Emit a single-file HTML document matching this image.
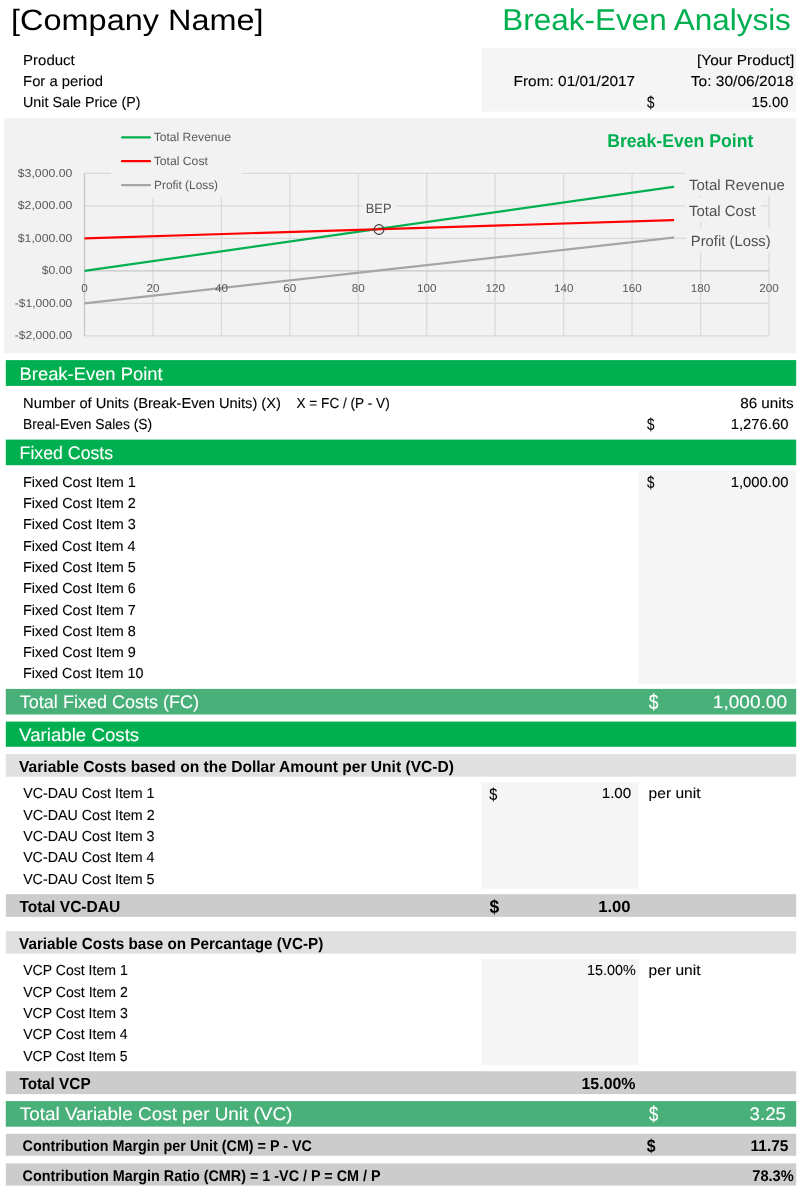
<!DOCTYPE html>
<html lang="en"><head><meta charset="utf-8"><title>Break-Even Analysis</title>
<style>html,body{margin:0;padding:0;background:#fff}svg{display:block}</style></head>
<body>
<svg width="800" height="1192" viewBox="0 0 800 1192" font-family='"Liberation Sans", sans-serif' text-rendering="geometricPrecision">
<rect width="800" height="1192" fill="#fff"/>
<rect x="481.3" y="47.8" width="314.9" height="63.8" fill="#F5F5F5"/>
<rect x="4.2" y="117.9" width="792" height="235.1" fill="#F2F2F2"/>
<rect x="5.8" y="360.1" width="790.4" height="25.8" fill="#00B050"/>
<rect x="5.8" y="439.6" width="790.4" height="25.6" fill="#00B050"/>
<rect x="638.6" y="470.6" width="157.6" height="213" fill="#F5F5F5"/>
<rect x="5.8" y="688.9" width="790.4" height="25.6" fill="#48B078"/>
<rect x="5.8" y="721.6" width="790.4" height="25.2" fill="#00B050"/>
<rect x="5.8" y="754.1" width="790.4" height="22.6" fill="#E0E0E0"/>
<rect x="481.25" y="782.2" width="157.5" height="106.55" fill="#F5F5F5"/>
<rect x="5.8" y="894.2" width="790.4" height="22.7" fill="#CCCCCC"/>
<rect x="5.8" y="931.2" width="790.4" height="22.5" fill="#E0E0E0"/>
<rect x="481.25" y="959.25" width="157.5" height="106.25" fill="#F5F5F5"/>
<rect x="5.8" y="1071.2" width="790.4" height="22.9" fill="#CCCCCC"/>
<rect x="5.8" y="1101.1" width="790.4" height="25.6" fill="#48B078"/>
<rect x="5.8" y="1133.8" width="790.4" height="22" fill="#CCCCCC"/>
<rect x="5.8" y="1163.4" width="790.4" height="22.2" fill="#CCCCCC"/>
<g stroke="#DADADA" stroke-width="1.25" fill="none">
<line x1="84.5" y1="173.26" x2="769" y2="173.26"/>
<line x1="84.5" y1="205.79" x2="769" y2="205.79"/>
<line x1="84.5" y1="238.32" x2="769" y2="238.32"/>
<line x1="84.5" y1="303.38" x2="769" y2="303.38"/>
<line x1="84.5" y1="335.91" x2="769" y2="335.91"/>
<line x1="152.95" y1="173.26" x2="152.95" y2="335.91"/>
<line x1="221.4" y1="173.26" x2="221.4" y2="335.91"/>
<line x1="289.85" y1="173.26" x2="289.85" y2="335.91"/>
<line x1="358.3" y1="173.26" x2="358.3" y2="335.91"/>
<line x1="426.75" y1="173.26" x2="426.75" y2="335.91"/>
<line x1="495.2" y1="173.26" x2="495.2" y2="335.91"/>
<line x1="563.65" y1="173.26" x2="563.65" y2="335.91"/>
<line x1="632.1" y1="173.26" x2="632.1" y2="335.91"/>
<line x1="700.55" y1="173.26" x2="700.55" y2="335.91"/>
<line x1="769" y1="173.26" x2="769" y2="335.91"/>
<line x1="84.5" y1="270.85" x2="769" y2="270.85" stroke="#C6C6C6"/>
<line x1="84.5" y1="173.26" x2="84.5" y2="335.91" stroke="#C6C6C6"/>
</g>
<rect x="111" y="124" width="130.6" height="73.6" fill="#F2F2F2"/>
<rect x="685" y="168" width="105" height="27.9" fill="#F2F2F2"/>
<rect x="685" y="198" width="76" height="23.6" fill="#F2F2F2"/>
<rect x="686.5" y="227.4" width="89.5" height="25.35" fill="#F2F2F2"/>
<rect x="362.5" y="200" width="33.5" height="17" fill="#F2F2F2"/>
<line x1="84.5" y1="303.38" x2="673.17" y2="237.64" stroke="#A5A5A5" stroke-width="2.2"/><circle cx="673.17" cy="237.64" r="1.1" fill="#A5A5A5"/>
<line x1="84.5" y1="270.85" x2="673.17" y2="186.92" stroke="#00B050" stroke-width="2.2"/><circle cx="673.17" cy="186.92" r="1.1" fill="#00B050"/>
<line x1="84.5" y1="238.32" x2="673.17" y2="220.14" stroke="#FF0000" stroke-width="2.2"/><circle cx="673.17" cy="220.14" r="1.1" fill="#FF0000"/>
<circle cx="379" cy="229.5" r="4.9" fill="none" stroke="#404040" stroke-width="1.1"/>
<line x1="122" y1="137.3" x2="150" y2="137.3" stroke="#00B050" stroke-width="2.2" stroke-linecap="round"/>
<line x1="122" y1="161.2" x2="150" y2="161.2" stroke="#FF0000" stroke-width="2.2" stroke-linecap="round"/>
<line x1="122" y1="185.1" x2="150" y2="185.1" stroke="#A5A5A5" stroke-width="2.2" stroke-linecap="round"/>
<g fill="#595959" font-size="11.4">
<text x="72.3" y="176.56" text-anchor="end" textLength="54.5" lengthAdjust="spacingAndGlyphs">$3,000.00</text>
<text x="72.3" y="209.09" text-anchor="end" textLength="54.5" lengthAdjust="spacingAndGlyphs">$2,000.00</text>
<text x="72.3" y="241.62" text-anchor="end" textLength="54.5" lengthAdjust="spacingAndGlyphs">$1,000.00</text>
<text x="72.3" y="274.15" text-anchor="end" textLength="30.5" lengthAdjust="spacingAndGlyphs">$0.00</text>
<text x="72.3" y="306.68" text-anchor="end" textLength="57.5" lengthAdjust="spacingAndGlyphs">-$1,000.00</text>
<text x="72.3" y="339.21" text-anchor="end" textLength="57.5" lengthAdjust="spacingAndGlyphs">-$2,000.00</text>
<text x="84.5" y="292.2" text-anchor="middle" textLength="6.5" lengthAdjust="spacingAndGlyphs">0</text>
<text x="152.95" y="292.2" text-anchor="middle" textLength="13" lengthAdjust="spacingAndGlyphs">20</text>
<text x="221.4" y="292.2" text-anchor="middle" textLength="13" lengthAdjust="spacingAndGlyphs">40</text>
<text x="289.85" y="292.2" text-anchor="middle" textLength="13" lengthAdjust="spacingAndGlyphs">60</text>
<text x="358.3" y="292.2" text-anchor="middle" textLength="13" lengthAdjust="spacingAndGlyphs">80</text>
<text x="426.75" y="292.2" text-anchor="middle" textLength="19.5" lengthAdjust="spacingAndGlyphs">100</text>
<text x="495.2" y="292.2" text-anchor="middle" textLength="19.5" lengthAdjust="spacingAndGlyphs">120</text>
<text x="563.65" y="292.2" text-anchor="middle" textLength="19.5" lengthAdjust="spacingAndGlyphs">140</text>
<text x="632.1" y="292.2" text-anchor="middle" textLength="19.5" lengthAdjust="spacingAndGlyphs">160</text>
<text x="700.55" y="292.2" text-anchor="middle" textLength="19.5" lengthAdjust="spacingAndGlyphs">180</text>
<text x="769" y="292.2" text-anchor="middle" textLength="19.5" lengthAdjust="spacingAndGlyphs">200</text>
</g>
<text x="11.1" y="30.3" font-size="29.3" textLength="252.41" lengthAdjust="spacingAndGlyphs">[Company Name]</text>
<text x="502.2" y="30.4" font-size="30" textLength="288.69" lengthAdjust="spacingAndGlyphs" fill="#00B050">Break-Even Analysis</text>
<text x="23.07" y="64.55" font-size="14.5" textLength="51.66" lengthAdjust="spacingAndGlyphs" stroke="#000" stroke-width="0.1">Product</text>
<text x="23.1" y="85.75" font-size="14.5" textLength="79.78" lengthAdjust="spacingAndGlyphs" stroke="#000" stroke-width="0.1">For a period</text>
<text x="23.07" y="107.05" font-size="14.5" textLength="117.42" lengthAdjust="spacingAndGlyphs" stroke="#000" stroke-width="0.1">Unit Sale Price (P)</text>
<text x="696.98" y="64.55" font-size="14.5" textLength="97.2" lengthAdjust="spacingAndGlyphs" stroke="#000" stroke-width="0.1">[Your Product]</text>
<text x="513.59" y="85.75" font-size="14.5" textLength="121.59" lengthAdjust="spacingAndGlyphs" stroke="#000" stroke-width="0.1">From: 01/01/2017</text>
<text x="690.75" y="85.75" font-size="14.5" textLength="102.84" lengthAdjust="spacingAndGlyphs" stroke="#000" stroke-width="0.1">To: 30/06/2018</text>
<text x="646.94" y="108.14" font-size="16.96" textLength="7.44" lengthAdjust="spacingAndGlyphs" stroke="#000" stroke-width="0.1">$</text>
<text x="751.4" y="107.05" font-size="14.5" textLength="37.07" lengthAdjust="spacingAndGlyphs" stroke="#000" stroke-width="0.1">15.00</text>
<text x="19.53" y="379.75" font-size="18.1" textLength="143.12" lengthAdjust="spacingAndGlyphs" fill="#fff" stroke="#fff" stroke-width="0.1">Break-Even Point</text>
<text x="23.12" y="407.85" font-size="14.5" textLength="257.84" lengthAdjust="spacingAndGlyphs" stroke="#000" stroke-width="0.1">Number of Units (Break-Even Units) (X)</text>
<text x="296.45" y="407.85" font-size="14.5" textLength="93.27" lengthAdjust="spacingAndGlyphs" stroke="#000" stroke-width="0.1">X = FC / (P - V)</text>
<text x="23.02" y="429.15" font-size="14.5" textLength="129.1" lengthAdjust="spacingAndGlyphs" stroke="#000" stroke-width="0.1">Breal-Even Sales (S)</text>
<text x="740.18" y="407.85" font-size="14.5" textLength="53.42" lengthAdjust="spacingAndGlyphs" stroke="#000" stroke-width="0.1">86 units</text>
<text x="646.93" y="430.24" font-size="16.96" textLength="7.45" lengthAdjust="spacingAndGlyphs" stroke="#000" stroke-width="0.1">$</text>
<text x="730.71" y="429.15" font-size="14.5" textLength="57.75" lengthAdjust="spacingAndGlyphs" stroke="#000" stroke-width="0.1">1,276.60</text>
<text x="19.57" y="459.25" font-size="18.1" textLength="93.61" lengthAdjust="spacingAndGlyphs" fill="#fff" stroke="#fff" stroke-width="0.1">Fixed Costs</text>
<text x="22.95" y="486.95" font-size="14.5" textLength="112.87" lengthAdjust="spacingAndGlyphs" stroke="#000" stroke-width="0.1">Fixed Cost Item 1</text>
<text x="22.95" y="508.21" font-size="14.5" textLength="112.89" lengthAdjust="spacingAndGlyphs" stroke="#000" stroke-width="0.1">Fixed Cost Item 2</text>
<text x="22.95" y="529.47" font-size="14.5" textLength="112.87" lengthAdjust="spacingAndGlyphs" stroke="#000" stroke-width="0.1">Fixed Cost Item 3</text>
<text x="22.95" y="550.73" font-size="14.5" textLength="112.6" lengthAdjust="spacingAndGlyphs" stroke="#000" stroke-width="0.1">Fixed Cost Item 4</text>
<text x="22.95" y="571.99" font-size="14.5" textLength="112.84" lengthAdjust="spacingAndGlyphs" stroke="#000" stroke-width="0.1">Fixed Cost Item 5</text>
<text x="22.95" y="593.25" font-size="14.5" textLength="112.87" lengthAdjust="spacingAndGlyphs" stroke="#000" stroke-width="0.1">Fixed Cost Item 6</text>
<text x="22.95" y="614.51" font-size="14.5" textLength="112.89" lengthAdjust="spacingAndGlyphs" stroke="#000" stroke-width="0.1">Fixed Cost Item 7</text>
<text x="22.95" y="635.77" font-size="14.5" textLength="112.86" lengthAdjust="spacingAndGlyphs" stroke="#000" stroke-width="0.1">Fixed Cost Item 8</text>
<text x="22.95" y="657.03" font-size="14.5" textLength="112.88" lengthAdjust="spacingAndGlyphs" stroke="#000" stroke-width="0.1">Fixed Cost Item 9</text>
<text x="22.95" y="678.29" font-size="14.5" textLength="120.57" lengthAdjust="spacingAndGlyphs" stroke="#000" stroke-width="0.1">Fixed Cost Item 10</text>
<text x="646.94" y="488.04" font-size="16.96" textLength="7.44" lengthAdjust="spacingAndGlyphs" stroke="#000" stroke-width="0.1">$</text>
<text x="730.71" y="486.95" font-size="14.5" textLength="57.75" lengthAdjust="spacingAndGlyphs" stroke="#000" stroke-width="0.1">1,000.00</text>
<text x="19.8" y="707.55" font-size="18.1" textLength="179.33" lengthAdjust="spacingAndGlyphs" fill="#fff" stroke="#fff" stroke-width="0.1">Total Fixed Costs (FC)</text>
<text x="648.78" y="708.91" font-size="21.18" textLength="9.71" lengthAdjust="spacingAndGlyphs" fill="#fff" stroke="#fff" stroke-width="0.1">$</text>
<text x="712.89" y="707.55" font-size="18.1" textLength="74.17" lengthAdjust="spacingAndGlyphs" fill="#fff" stroke="#fff" stroke-width="0.1">1,000.00</text>
<text x="19.14" y="740.5" font-size="18.1" textLength="120.05" lengthAdjust="spacingAndGlyphs" fill="#fff" stroke="#fff" stroke-width="0.1">Variable Costs</text>
<text x="19.09" y="771.55" font-size="16" textLength="434.83" lengthAdjust="spacingAndGlyphs" font-weight="bold">Variable Costs based on the Dollar Amount per Unit (VC-D)</text>
<text x="23.14" y="798.45" font-size="14.5" textLength="131.39" lengthAdjust="spacingAndGlyphs" stroke="#000" stroke-width="0.1">VC-DAU Cost Item 1</text>
<text x="23.14" y="819.75" font-size="14.5" textLength="131.44" lengthAdjust="spacingAndGlyphs" stroke="#000" stroke-width="0.1">VC-DAU Cost Item 2</text>
<text x="23.14" y="841.05" font-size="14.5" textLength="131.4" lengthAdjust="spacingAndGlyphs" stroke="#000" stroke-width="0.1">VC-DAU Cost Item 3</text>
<text x="23.14" y="862.35" font-size="14.5" textLength="131.34" lengthAdjust="spacingAndGlyphs" stroke="#000" stroke-width="0.1">VC-DAU Cost Item 4</text>
<text x="23.14" y="883.65" font-size="14.5" textLength="131.34" lengthAdjust="spacingAndGlyphs" stroke="#000" stroke-width="0.1">VC-DAU Cost Item 5</text>
<text x="489.27" y="799.54" font-size="16.96" textLength="8.05" lengthAdjust="spacingAndGlyphs" stroke="#000" stroke-width="0.1">$</text>
<text x="601.68" y="798.45" font-size="14.5" textLength="29.62" lengthAdjust="spacingAndGlyphs" stroke="#000" stroke-width="0.1">1.00</text>
<text x="648.64" y="798.45" font-size="14.5" textLength="51.88" lengthAdjust="spacingAndGlyphs" stroke="#000" stroke-width="0.1">per unit</text>
<text x="19.42" y="911.55" font-size="16" textLength="100.86" lengthAdjust="spacingAndGlyphs" font-weight="bold">Total VC-DAU</text>
<text x="489.41" y="912.75" font-size="18.72" textLength="9.66" lengthAdjust="spacingAndGlyphs" font-weight="bold">$</text>
<text x="598.15" y="911.55" font-size="16" textLength="32.51" lengthAdjust="spacingAndGlyphs" font-weight="bold">1.00</text>
<text x="19.1" y="949.05" font-size="16" textLength="304.21" lengthAdjust="spacingAndGlyphs" font-weight="bold">Variable Costs base on Percantage (VC-P)</text>
<text x="23.14" y="975.45" font-size="14.5" textLength="104.62" lengthAdjust="spacingAndGlyphs" stroke="#000" stroke-width="0.1">VCP Cost Item 1</text>
<text x="23.14" y="996.78" font-size="14.5" textLength="104.67" lengthAdjust="spacingAndGlyphs" stroke="#000" stroke-width="0.1">VCP Cost Item 2</text>
<text x="23.14" y="1018.11" font-size="14.5" textLength="104.62" lengthAdjust="spacingAndGlyphs" stroke="#000" stroke-width="0.1">VCP Cost Item 3</text>
<text x="23.14" y="1039.44" font-size="14.5" textLength="104.54" lengthAdjust="spacingAndGlyphs" stroke="#000" stroke-width="0.1">VCP Cost Item 4</text>
<text x="23.14" y="1060.77" font-size="14.5" textLength="104.56" lengthAdjust="spacingAndGlyphs" stroke="#000" stroke-width="0.1">VCP Cost Item 5</text>
<text x="586.97" y="975.45" font-size="14.5" textLength="48.74" lengthAdjust="spacingAndGlyphs" stroke="#000" stroke-width="0.1">15.00%</text>
<text x="648.64" y="975.45" font-size="14.5" textLength="51.88" lengthAdjust="spacingAndGlyphs" stroke="#000" stroke-width="0.1">per unit</text>
<text x="19.42" y="1088.8" font-size="16" textLength="71.21" lengthAdjust="spacingAndGlyphs" font-weight="bold">Total VCP</text>
<text x="581.51" y="1088.8" font-size="16" textLength="53.99" lengthAdjust="spacingAndGlyphs" font-weight="bold">15.00%</text>
<text x="19.77" y="1119.75" font-size="18.1" textLength="272.56" lengthAdjust="spacingAndGlyphs" fill="#fff" stroke="#fff" stroke-width="0.1">Total Variable Cost per Unit (VC)</text>
<text x="649.1" y="1121.11" font-size="21.18" textLength="9.25" lengthAdjust="spacingAndGlyphs" fill="#fff" stroke="#fff" stroke-width="0.1">$</text>
<text x="749.64" y="1119.75" font-size="18.1" textLength="36.24" lengthAdjust="spacingAndGlyphs" fill="#fff" stroke="#fff" stroke-width="0.1">3.25</text>
<text x="22.58" y="1150.5" font-size="15.5" textLength="289.38" lengthAdjust="spacingAndGlyphs" font-weight="bold">Contribution Margin per Unit (CM) = P - VC</text>
<text x="646.63" y="1151.66" font-size="18.13" textLength="8.83" lengthAdjust="spacingAndGlyphs" font-weight="bold">$</text>
<text x="750.54" y="1150.5" font-size="15.5" textLength="37.86" lengthAdjust="spacingAndGlyphs" font-weight="bold">11.75</text>
<text x="22.58" y="1180.5" font-size="15.5" textLength="358.04" lengthAdjust="spacingAndGlyphs" font-weight="bold">Contribution Margin Ratio (CMR) = 1 -VC / P = CM / P</text>
<text x="752.28" y="1180.5" font-size="15.5" textLength="41.49" lengthAdjust="spacingAndGlyphs" font-weight="bold">78.3%</text>
<text x="607.2" y="147.2" font-size="18.6" textLength="146.18" lengthAdjust="spacingAndGlyphs" font-weight="bold" fill="#00B050">Break-Even Point</text>
<text x="153.68" y="141" font-size="12" textLength="77.4" lengthAdjust="spacingAndGlyphs" fill="#595959">Total Revenue</text>
<text x="153.68" y="165" font-size="12" textLength="54.2" lengthAdjust="spacingAndGlyphs" fill="#595959">Total Cost</text>
<text x="154.08" y="189" font-size="12" textLength="64" lengthAdjust="spacingAndGlyphs" fill="#595959">Profit (Loss)</text>
<text x="688.94" y="189.7" font-size="14.9" textLength="96.02" lengthAdjust="spacingAndGlyphs" fill="#505050">Total Revenue</text>
<text x="688.94" y="215.9" font-size="14.9" textLength="66.66" lengthAdjust="spacingAndGlyphs" fill="#505050">Total Cost</text>
<text x="690.76" y="246" font-size="14.9" textLength="79.98" lengthAdjust="spacingAndGlyphs" fill="#505050">Profit (Loss)</text>
<text x="365.83" y="213.25" font-size="13.5" textLength="25.6" lengthAdjust="spacingAndGlyphs" fill="#505050">BEP</text>
</svg>
</body></html>
